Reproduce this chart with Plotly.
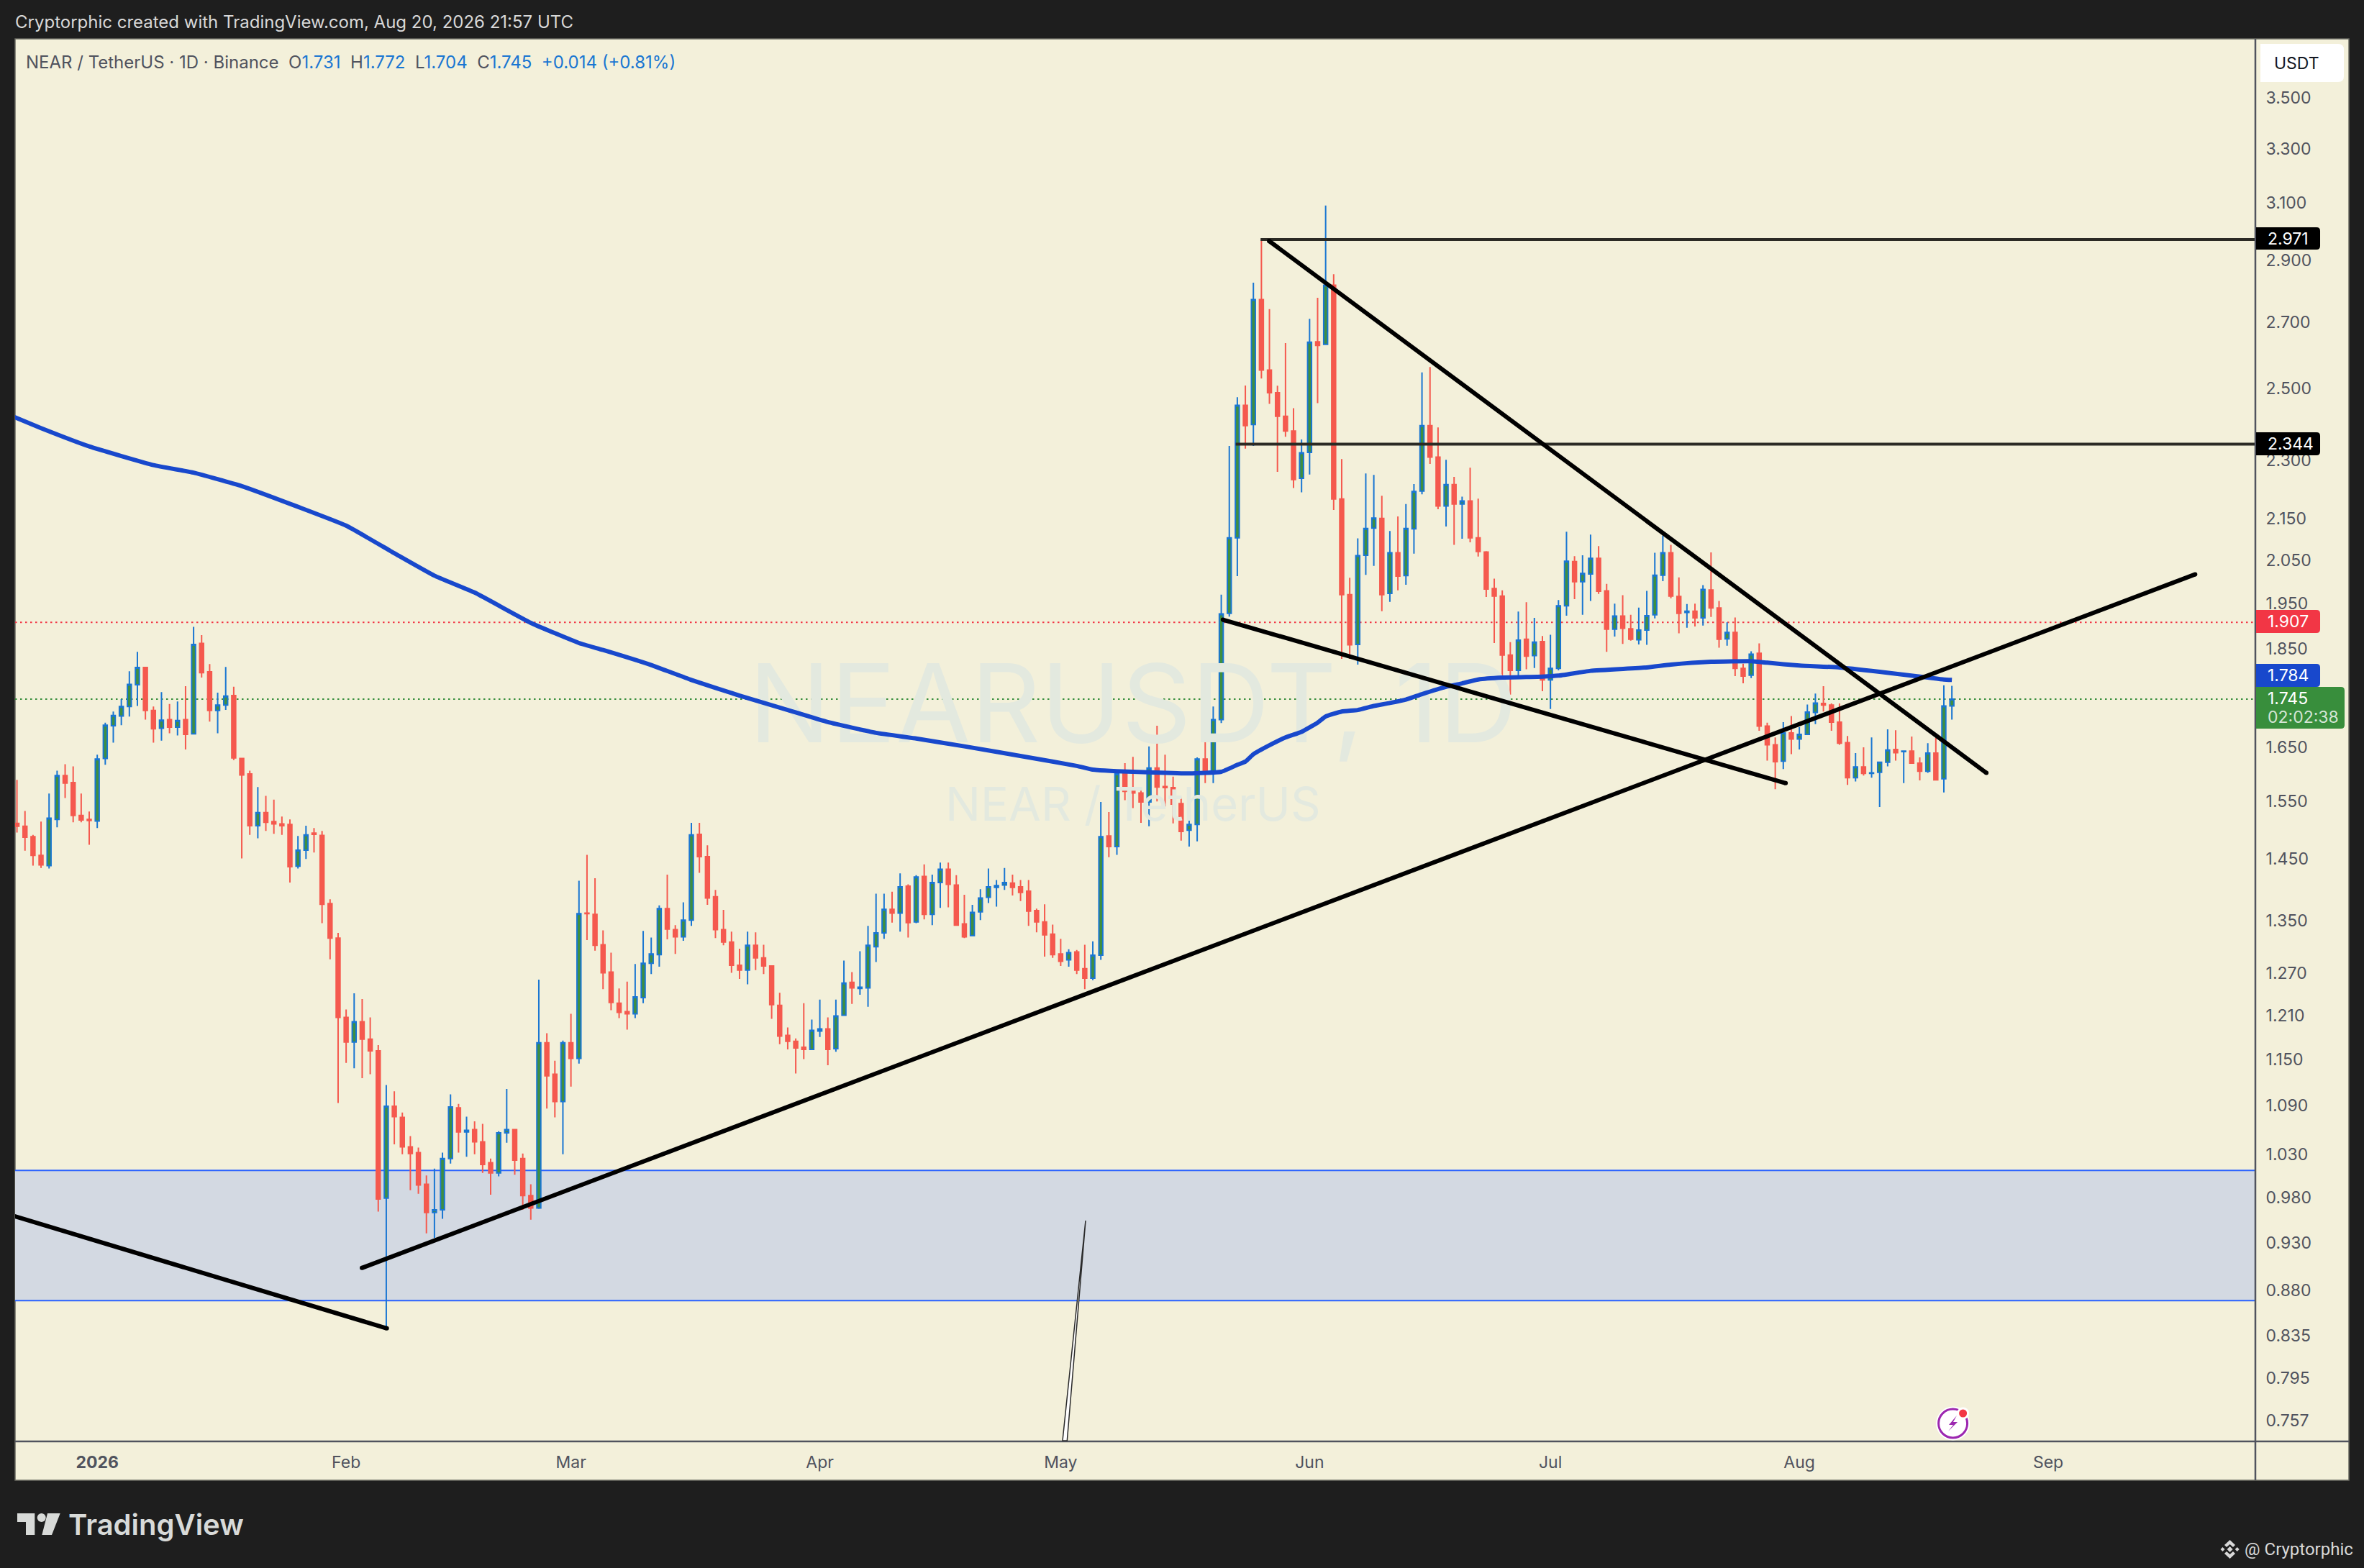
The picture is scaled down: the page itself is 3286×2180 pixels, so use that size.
import math

import pandas as pd
import plotly.graph_objects as go

W = 3286
H = 2180

# daily candles, first one is 22 Dec 2025
first_day = "2025-12-22"
opens = [
    1.511, 1.506, 1.488, 1.456, 1.439, 1.518, 1.597, 1.584, 1.525, 1.518,
    1.515, 1.629, 1.692, 1.711, 1.730, 1.774, 1.810, 1.722, 1.687, 1.704,
    1.689, 1.704, 1.676, 1.861, 1.801, 1.722, 1.733, 1.752, 1.629, 1.600,
    1.507, 1.530, 1.514, 1.510, 1.509, 1.438, 1.465, 1.494, 1.490, 1.377,
    1.323, 1.207, 1.173, 1.201, 1.177, 1.161, 0.979, 1.089, 1.075, 1.039,
    1.032, 0.995, 0.963, 0.966, 1.025, 1.087, 1.057, 1.060, 1.045, 1.020,
    1.008, 1.056, 1.060, 1.025, 0.982, 0.968, 1.172, 1.130, 1.095, 1.172,
    1.151, 1.362, 1.360, 1.313, 1.272, 1.227, 1.215, 1.212, 1.235, 1.285,
    1.298, 1.369, 1.336, 1.325, 1.351, 1.492, 1.454, 1.388, 1.336, 1.317,
    1.282, 1.275, 1.312, 1.293, 1.281, 1.224, 1.182, 1.174, 1.166, 1.163,
    1.188, 1.191, 1.164, 1.210, 1.257, 1.248, 1.249, 1.310, 1.331, 1.368,
    1.362, 1.405, 1.348, 1.421, 1.360, 1.411, 1.433, 1.407, 1.345, 1.327,
    1.364, 1.387, 1.403, 1.407, 1.410, 1.404, 1.397, 1.366, 1.348, 1.329,
    1.299, 1.290, 1.302, 1.277, 1.263, 1.297, 1.489, 1.471, 1.600, 1.569,
    1.565, 1.549, 1.611, 1.577, 1.575, 1.546, 1.499, 1.509, 1.628, 1.605,
    1.704, 1.927, 2.103, 2.452, 2.398, 2.771, 2.554, 2.488, 2.421, 2.380,
    2.253, 2.322, 2.639, 2.631, 2.818, 2.200, 1.969, 1.859, 2.061, 2.127,
    2.151, 1.972, 2.067, 2.013, 2.125, 2.220, 2.395, 2.309, 2.182, 2.237,
    2.187, 2.195, 2.103, 2.069, 1.983, 1.966, 1.836, 1.804, 1.870, 1.835,
    1.865, 1.784, 1.808, 1.944, 2.046, 1.999, 2.017, 2.054, 1.978, 1.892,
    1.921, 1.893, 1.869, 1.890, 1.924, 2.014, 2.067, 1.965, 1.929, 1.932,
    1.917, 1.980, 1.939, 1.871, 1.885, 1.808, 1.794, 1.840, 1.691, 1.655,
    1.624, 1.678, 1.666, 1.675, 1.718, 1.736, 1.733, 1.699, 1.659, 1.593,
    1.613, 1.601, 1.603, 1.622, 1.646, 1.642, 1.643, 1.620, 1.605, 1.639,
    1.591, 1.731,
]
closes = [
    1.506, 1.487, 1.456, 1.440, 1.520, 1.597, 1.583, 1.525, 1.517, 1.516,
    1.628, 1.693, 1.712, 1.730, 1.775, 1.810, 1.722, 1.686, 1.703, 1.689,
    1.702, 1.675, 1.859, 1.799, 1.722, 1.733, 1.751, 1.630, 1.598, 1.507,
    1.530, 1.513, 1.510, 1.507, 1.437, 1.465, 1.491, 1.492, 1.376, 1.323,
    1.207, 1.173, 1.201, 1.177, 1.161, 0.978, 1.089, 1.076, 1.039, 1.031,
    0.994, 0.963, 0.966, 1.025, 1.088, 1.057, 1.059, 1.045, 1.018, 1.008,
    1.056, 1.060, 1.023, 0.982, 0.968, 1.172, 1.128, 1.095, 1.172, 1.151,
    1.361, 1.361, 1.312, 1.271, 1.228, 1.214, 1.212, 1.236, 1.285, 1.299,
    1.369, 1.337, 1.325, 1.351, 1.491, 1.454, 1.386, 1.336, 1.317, 1.282,
    1.275, 1.312, 1.293, 1.281, 1.225, 1.181, 1.174, 1.165, 1.163, 1.189,
    1.191, 1.163, 1.209, 1.256, 1.249, 1.250, 1.312, 1.331, 1.368, 1.362,
    1.404, 1.347, 1.420, 1.360, 1.411, 1.433, 1.408, 1.343, 1.325, 1.363,
    1.386, 1.404, 1.406, 1.411, 1.403, 1.395, 1.365, 1.348, 1.328, 1.298,
    1.288, 1.301, 1.275, 1.263, 1.297, 1.488, 1.471, 1.600, 1.568, 1.565,
    1.549, 1.611, 1.576, 1.575, 1.545, 1.497, 1.509, 1.628, 1.604, 1.704,
    1.926, 2.103, 2.452, 2.395, 2.771, 2.554, 2.488, 2.421, 2.380, 2.250,
    2.321, 2.638, 2.628, 2.818, 2.200, 1.969, 1.858, 2.060, 2.126, 2.152,
    1.969, 2.067, 2.012, 2.126, 2.219, 2.395, 2.309, 2.182, 2.237, 2.187,
    2.195, 2.103, 2.070, 1.982, 1.966, 1.836, 1.804, 1.868, 1.834, 1.864,
    1.784, 1.808, 1.944, 2.047, 1.999, 2.018, 2.054, 1.977, 1.892, 1.921,
    1.894, 1.870, 1.890, 1.922, 2.014, 2.067, 1.966, 1.927, 1.932, 1.917,
    1.981, 1.939, 1.870, 1.885, 1.808, 1.792, 1.838, 1.691, 1.655, 1.623,
    1.678, 1.666, 1.675, 1.719, 1.737, 1.733, 1.699, 1.658, 1.593, 1.613,
    1.601, 1.602, 1.622, 1.645, 1.640, 1.643, 1.620, 1.605, 1.639, 1.589,
    1.731, 1.745,
]
highs = [
    1.589, 1.533, 1.491, 1.514, 1.564, 1.606, 1.618, 1.614, 1.564, 1.532,
    1.636, 1.698, 1.720, 1.745, 1.802, 1.843, 1.811, 1.730, 1.759, 1.735,
    1.740, 1.771, 1.897, 1.879, 1.817, 1.758, 1.811, 1.770, 1.630, 1.606,
    1.576, 1.560, 1.553, 1.523, 1.518, 1.489, 1.507, 1.503, 1.498, 1.384,
    1.331, 1.218, 1.241, 1.233, 1.207, 1.169, 1.116, 1.108, 1.081, 1.052,
    1.038, 1.005, 1.013, 1.032, 1.104, 1.092, 1.076, 1.070, 1.067, 1.025,
    1.058, 1.111, 1.060, 1.031, 0.995, 1.261, 1.185, 1.148, 1.175, 1.212,
    1.414, 1.457, 1.418, 1.335, 1.301, 1.248, 1.258, 1.284, 1.334, 1.324,
    1.374, 1.424, 1.343, 1.379, 1.512, 1.512, 1.473, 1.399, 1.367, 1.333,
    1.307, 1.333, 1.332, 1.313, 1.281, 1.242, 1.193, 1.178, 1.227, 1.204,
    1.232, 1.207, 1.232, 1.289, 1.272, 1.303, 1.342, 1.393, 1.393, 1.396,
    1.426, 1.408, 1.423, 1.441, 1.424, 1.444, 1.444, 1.423, 1.391, 1.375,
    1.400, 1.434, 1.415, 1.435, 1.424, 1.415, 1.415, 1.369, 1.376, 1.344,
    1.322, 1.306, 1.305, 1.313, 1.318, 1.549, 1.531, 1.606, 1.620, 1.632,
    1.576, 1.652, 1.692, 1.636, 1.595, 1.556, 1.562, 1.631, 1.689, 1.730,
    1.969, 2.339, 2.475, 2.509, 2.826, 2.971, 2.741, 2.508, 2.635, 2.444,
    2.357, 2.710, 2.777, 3.090, 2.854, 2.304, 2.008, 2.102, 2.266, 2.262,
    2.208, 2.120, 2.156, 2.187, 2.238, 2.547, 2.563, 2.390, 2.302, 2.257,
    2.206, 2.281, 2.201, 2.071, 2.006, 1.979, 1.864, 1.931, 1.952, 1.917,
    1.877, 1.880, 1.957, 2.118, 2.059, 2.061, 2.111, 2.083, 1.994, 1.949,
    1.968, 1.924, 1.940, 1.978, 2.067, 2.109, 2.086, 2.009, 1.948, 1.949,
    1.991, 2.068, 1.955, 1.907, 1.918, 1.818, 1.844, 1.861, 1.698, 1.669,
    1.699, 1.711, 1.689, 1.734, 1.756, 1.771, 1.736, 1.736, 1.672, 1.639,
    1.650, 1.669, 1.623, 1.685, 1.683, 1.644, 1.671, 1.631, 1.658, 1.668,
    1.773, 1.772,
]
lows = [
    1.495, 1.464, 1.439, 1.435, 1.434, 1.504, 1.556, 1.513, 1.513, 1.474,
    1.503, 1.617, 1.659, 1.693, 1.710, 1.731, 1.704, 1.659, 1.663, 1.677,
    1.673, 1.646, 1.675, 1.789, 1.700, 1.677, 1.723, 1.626, 1.451, 1.491,
    1.485, 1.498, 1.493, 1.491, 1.411, 1.434, 1.450, 1.461, 1.346, 1.291,
    1.093, 1.145, 1.138, 1.125, 1.130, 0.964, 0.842, 1.042, 1.030, 0.988,
    0.984, 0.940, 0.935, 0.956, 1.019, 1.032, 1.027, 1.030, 1.008, 0.983,
    1.004, 1.044, 1.006, 0.966, 0.955, 0.967, 1.086, 1.075, 1.030, 1.114,
    1.144, 1.320, 1.304, 1.247, 1.217, 1.206, 1.190, 1.206, 1.227, 1.269,
    1.280, 1.321, 1.299, 1.319, 1.342, 1.427, 1.375, 1.323, 1.312, 1.271,
    1.262, 1.254, 1.275, 1.269, 1.205, 1.170, 1.163, 1.131, 1.150, 1.163,
    1.180, 1.142, 1.160, 1.209, 1.226, 1.239, 1.222, 1.287, 1.322, 1.347,
    1.333, 1.324, 1.346, 1.352, 1.343, 1.370, 1.371, 1.343, 1.323, 1.326,
    1.351, 1.378, 1.372, 1.399, 1.390, 1.381, 1.342, 1.332, 1.295, 1.293,
    1.281, 1.280, 1.269, 1.247, 1.260, 1.290, 1.453, 1.457, 1.552, 1.538,
    1.512, 1.506, 1.550, 1.541, 1.511, 1.481, 1.471, 1.480, 1.583, 1.583,
    1.697, 1.920, 2.012, 2.332, 2.339, 2.529, 2.456, 2.270, 2.364, 2.228,
    2.217, 2.263, 2.458, 2.631, 2.172, 1.828, 1.828, 1.816, 2.015, 2.036,
    1.932, 1.953, 1.979, 1.992, 2.065, 2.212, 2.291, 2.174, 2.131, 2.086,
    2.101, 2.092, 2.058, 1.964, 1.862, 1.779, 1.754, 1.793, 1.806, 1.809,
    1.761, 1.725, 1.804, 1.922, 1.959, 1.924, 1.955, 1.971, 1.843, 1.876,
    1.860, 1.867, 1.859, 1.858, 1.916, 2.000, 1.961, 1.883, 1.895, 1.898,
    1.900, 1.919, 1.852, 1.856, 1.792, 1.777, 1.788, 1.682, 1.625, 1.572,
    1.609, 1.637, 1.646, 1.674, 1.695, 1.720, 1.682, 1.655, 1.580, 1.586,
    1.597, 1.593, 1.540, 1.614, 1.625, 1.583, 1.619, 1.588, 1.602, 1.589,
    1.566, 1.704,
]

ma_days = [-11, -7, -1, 7, 12, 18, 25, 31, 37, 42, 47, 54, 60, 63, 69, 74, 80, 86, 91, 97,
           102, 108, 116, 122, 124, 127, 131, 136, 140, 142, 143, 144, 146, 148, 150, 152,
           153, 155, 157, 159, 161, 163, 165, 168, 170, 172, 175, 180, 182, 186, 193, 196,
           201, 206, 208, 212, 217, 222, 228, 230, 231]
ma_values = [2.425, 2.388, 2.338, 2.288, 2.268, 2.233, 2.180, 2.133, 2.066, 2.013, 1.974,
             1.906, 1.862, 1.847, 1.815, 1.784, 1.752, 1.723, 1.699, 1.678, 1.667, 1.652,
             1.631, 1.615, 1.608, 1.605, 1.603, 1.601, 1.604, 1.617, 1.623, 1.637, 1.654,
             1.669, 1.680, 1.698, 1.710, 1.720, 1.723, 1.731, 1.737, 1.744, 1.755, 1.770,
             1.777, 1.785, 1.789, 1.791, 1.793, 1.803, 1.810, 1.816, 1.822, 1.823, 1.820,
             1.814, 1.810, 1.801, 1.789, 1.785, 1.784]

# hand drawn trend lines: start day, start price, end day, end price
trend_up = [32.96, 0.903, 261.3, 2.016]
trend_left = [-11, 0.9606, 36.07, 0.842]
trend_down = [145.95, 2.966, 235.3, 1.602]
trend_wedge = [140.2, 1.913, 210.3, 1.583]
level_high = [144.9, 2.971]
level_mid = [141.8, 2.344]
zone_low = 0.8695
zone_high = 1.011
last_close = 1.745
alert_price = 1.907

price_ticks = [3.5, 3.3, 3.1, 2.9, 2.7, 2.5, 2.3, 2.15, 2.05, 1.95, 1.85, 1.65, 1.55, 1.45,
               1.35, 1.27, 1.21, 1.15, 1.09, 1.03, 0.98, 0.93, 0.88, 0.835, 0.795, 0.757]
price_labels = ["3.500", "3.300", "3.100", "2.900", "2.700", "2.500", "2.300", "2.150",
                "2.050", "1.950", "1.850", "1.650", "1.550", "1.450", "1.350", "1.270",
                "1.210", "1.150", "1.090", "1.030", "0.980", "0.930", "0.880", "0.835",
                "0.795", "0.757"]
time_ticks = ["2026-01-01", "2026-02-01", "2026-03-01", "2026-04-01", "2026-05-01",
              "2026-06-01", "2026-07-01", "2026-08-01", "2026-09-01"]
time_labels = ["<b>2026</b>", "Feb", "Mar", "Apr", "May", "Jun", "Jul", "Aug", "Sep"]

BG = "#f3f0da"
DARK = "#1e1e1e"
GRAY = "#50535e"
BLUE = "#1976d2"
GREEN_BODY = "#3f8f3f"
RED = "#f5594e"
LINE_BLUE = "#2962ff"
MA_BLUE = "#1848cc"
WATERMARK = "#e3e9df"
SANS = "Inter"

# plot box in page pixels
LEFT, RIGHT, TOP, BOTTOM = 21, 3135, 54, 2004
PANEL_RIGHT, PANEL_BOTTOM = 3265, 2058


def day(d):
    return pd.Timestamp("2026-01-01") + pd.Timedelta(days=d)


def fx(x):
    return x / W


def fy(y):
    return 1 - y / H


def poly(points):
    return "M " + " L ".join(f"{fx(x):.5f},{fy(y):.5f}" for x, y in points) + " Z"


def rounded_tag(x0, x1, y0, y1, r=5):
    # square on the left, round corners on the right
    return (f"M {fx(x0):.5f},{fy(y0):.5f} L {fx(x1 - r):.5f},{fy(y0):.5f} "
            f"Q {fx(x1):.5f},{fy(y0):.5f} {fx(x1):.5f},{fy(y0 + r):.5f} "
            f"L {fx(x1):.5f},{fy(y1 - r):.5f} "
            f"Q {fx(x1):.5f},{fy(y1):.5f} {fx(x1 - r):.5f},{fy(y1):.5f} "
            f"L {fx(x0):.5f},{fy(y1):.5f} Z")


def paper_shape(path, fill, layer="above", line=None, width=0):
    return dict(type="path", xref="paper", yref="paper", path=path, fillcolor=fill,
                line=dict(color=line or fill, width=width), layer=layer)


def circle(cx, cy, r, fill, line=None, width=0):
    return dict(type="circle", xref="paper", yref="paper", x0=fx(cx - r), x1=fx(cx + r),
                y0=fy(cy + r), y1=fy(cy - r), fillcolor=fill,
                line=dict(color=line or fill, width=width), layer="above")


def text_at(x, y, text, size, color, xanchor="left", family=SANS, weight=None):
    return dict(xref="paper", yref="paper", x=fx(x), y=fy(y), text=text, showarrow=False,
                xanchor=xanchor, yanchor="middle", align="left",
                font=dict(size=size, color=color, family=family, weight=weight))


dates = pd.date_range(first_day, periods=len(closes), freq="D")
assert len(opens) == len(highs) == len(lows) == len(closes) == 242

fig = go.Figure()

# watermark goes under everything
fig.add_trace(go.Scatter(x=[day(129)], y=[1.713], mode="text", text=["NEARUSDT, 1D"],
                         textposition="middle center", cliponaxis=False, hoverinfo="skip",
                         textfont=dict(size=151, color=WATERMARK, family=SANS)))
fig.add_trace(go.Scatter(x=[day(129)], y=[1.537], mode="text", text=["NEAR / TetherUS"],
                         textposition="middle center", cliponaxis=False, hoverinfo="skip",
                         textfont=dict(size=65, color=WATERMARK, family=SANS)))

fig.add_trace(go.Scatter(x=[day(d) for d in ma_days], y=ma_values, mode="lines",
                         line=dict(color=MA_BLUE, width=6, shape="spline", smoothing=0.4),
                         hoverinfo="skip"))

for lev in [level_high, level_mid]:
    fig.add_trace(go.Scatter(x=[day(lev[0]), day(300)], y=[lev[1], lev[1]], mode="lines",
                             line=dict(color="#2b2a24", width=4), hoverinfo="skip"))

for t in [trend_up, trend_left, trend_down, trend_wedge]:
    fig.add_trace(go.Scatter(x=[day(t[0]), day(t[2])], y=[t[1], t[3]], mode="lines+markers",
                             line=dict(color="#000000", width=6),
                             marker=dict(color="#000000", size=6), hoverinfo="skip"))

fig.add_trace(go.Candlestick(
    x=dates, open=opens, high=highs, low=lows, close=closes,
    whiskerwidth=0, hoverinfo="skip",
    increasing=dict(fillcolor=GREEN_BODY, line=dict(color=BLUE, width=2)),
    decreasing=dict(fillcolor=RED, line=dict(color=RED, width=2)),
))

shapes = [
    # cream panels behind the plot and the axes
    paper_shape(poly([(LEFT, TOP), (PANEL_RIGHT, TOP), (PANEL_RIGHT, PANEL_BOTTOM), (LEFT, PANEL_BOTTOM)]),
                BG, layer="below", line="#6a6a62", width=1.5),
    dict(type="rect", xref="x domain", yref="y", x0=0, x1=1, y0=zone_low, y1=zone_high,
         fillcolor="#d3d9e2", line=dict(width=0), layer="below"),
    dict(type="line", xref="x domain", yref="y", x0=0, x1=1, y0=zone_high, y1=zone_high,
         line=dict(color=LINE_BLUE, width=2), layer="below"),
    dict(type="line", xref="x domain", yref="y", x0=0, x1=1, y0=zone_low, y1=zone_low,
         line=dict(color=LINE_BLUE, width=2), layer="below"),
    dict(type="line", xref="x domain", yref="y", x0=0, x1=1, y0=alert_price, y1=alert_price,
         line=dict(color="#f23645", width=2, dash="2.5px,4.5px"), layer="below"),
    dict(type="line", xref="x domain", yref="y", x0=0, x1=1, y0=last_close, y1=last_close,
         line=dict(color="#388e3c", width=2, dash="2.5px,4.5px"), layer="below"),
    # axis lines
    dict(type="line", xref="paper", yref="paper", x0=fx(RIGHT), x1=fx(RIGHT), y0=fy(TOP), y1=fy(PANEL_BOTTOM),
         line=dict(color=GRAY, width=2.5), layer="above"),
    dict(type="line", xref="paper", yref="paper", x0=fx(LEFT), x1=fx(PANEL_RIGHT), y0=fy(BOTTOM), y1=fy(BOTTOM),
         line=dict(color=GRAY, width=2.5), layer="above"),
    # narrow wedge drawing that runs into the time axis
    paper_shape(poly([(1509, 1697), (1483.3, BOTTOM - 1), (1477, BOTTOM - 1)]), "#ffffff",
                line="#2a2a2a", width=1.5),
    # price tags
    paper_shape(rounded_tag(RIGHT + 1, 3225, 316, 347), "#000000"),
    paper_shape(rounded_tag(RIGHT + 1, 3225, 601, 633), "#000000"),
    paper_shape(rounded_tag(RIGHT + 1, 3225, 848, 880), "#f23645"),
    paper_shape(rounded_tag(RIGHT + 1, 3225, 923, 955), MA_BLUE),
    paper_shape(rounded_tag(RIGHT + 1, 3259, 955, 1013), "#388e3c"),
    # USDT button
    paper_shape(rounded_tag(3142, 3258, 61, 114, r=8), "#ffffff"),
    paper_shape(poly([(3142, 69), (3150, 61), (3150, 114), (3142, 106)]), "#ffffff"),
    # TradingView logo
    paper_shape(poly([(24, 2104), (48.3, 2104), (48.3, 2134), (36, 2134), (36, 2116), (24, 2116)]), "#d8dad8"),
    paper_shape(poly([(66, 2104), (83.7, 2104), (72, 2134), (58.3, 2134)]), "#d8dad8"),
    circle(57.7, 2110, 6, "#d8dad8"),
    # lightning badge at the last bar
    circle(2714.6, 1979, 23.5, "#ffffff"),
    circle(2714.6, 1979, 20, "#ffffff", line="#9c27b0", width=3),
    paper_shape(poly([(2720, 1968), (2709, 1981), (2715, 1981), (2708, 1990),
                      (2721, 1977), (2715, 1977)]), "#9c27b0"),
    circle(2728.6, 1965, 8.5, "#ffffff"),
    circle(2728.6, 1965, 5.5, "#f23645"),
    # binance mark next to the author name
    paper_shape(poly([(3099.6, 2141), (3107, 2148), (3104, 2151), (3099.6, 2147), (3095, 2151), (3092, 2148)]), "#d8d8d8"),
    paper_shape(poly([(3099.6, 2167), (3107, 2160), (3104, 2157), (3099.6, 2161), (3095, 2157), (3092, 2160)]), "#d8d8d8"),
    paper_shape(poly([(3099.6, 2150), (3103.6, 2154), (3099.6, 2158), (3095.6, 2154)]), "#d8d8d8"),
    paper_shape(poly([(3089.5, 2151), (3092.5, 2154), (3089.5, 2157), (3086.5, 2154)]), "#d8d8d8"),
    paper_shape(poly([(3109.7, 2151), (3112.7, 2154), (3109.7, 2157), (3106.7, 2154)]), "#d8d8d8"),
]

legend_line = (
    f"<span style='color:{GRAY}'>NEAR / TetherUS · 1D · Binance  O</span>"
    f"<span style='color:{BLUE}'>1.731</span><span style='color:{GRAY}'>  H</span>"
    f"<span style='color:{BLUE}'>1.772</span><span style='color:{GRAY}'>  L</span>"
    f"<span style='color:{BLUE}'>1.704</span><span style='color:{GRAY}'>  C</span>"
    f"<span style='color:{BLUE}'>1.745  +0.014 (+0.81%)</span>"
)

annotations = [
    text_at(19, 30, "Cryptorphic created with TradingView.com, Aug 20, 2026 21:57 UTC", 24, "#d8d8d8"),
    text_at(34, 86, legend_line, 24, GRAY),
    text_at(3192, 88, "USDT", 23, "#131722", xanchor="center"),
    text_at(3150, 332, "2.971", 23, "#ffffff"),
    text_at(3150, 617, "2.344", 23, "#ffffff"),
    text_at(3150, 864, "1.907", 23, "#ffffff"),
    text_at(3150, 939, "1.784", 23, "#ffffff"),
    text_at(3150, 971, "1.745", 23, "#ffffff"),
    text_at(3150, 997, "02:02:38", 23, "#d5e5d5"),
    text_at(93, 2119, "TradingView", 40, "#d8dad8", weight=600),
    text_at(3118, 2154, "@ Cryptorphic", 24, "#d8d8d8", family="Roboto"),
]

fig.update_layout(
    width=W,
    height=H,
    autosize=False,
    margin=dict(l=0, r=0, t=0, b=0),
    paper_bgcolor=DARK,
    plot_bgcolor="rgba(0,0,0,0)",
    showlegend=False,
    hovermode=False,
    shapes=shapes,
    annotations=annotations,
    xaxis=dict(
        domain=[fx(LEFT), fx(RIGHT)],
        type="date",
        range=[day(-10.23), day(268.8)],
        rangeslider=dict(visible=False),
        showgrid=False,
        zeroline=False,
        tickmode="array",
        tickvals=time_ticks,
        ticktext=time_labels,
        ticks="outside",
        ticklen=8,
        tickcolor=BG,
        tickfont=dict(size=23, color=GRAY, family=SANS),
    ),
    yaxis=dict(
        domain=[fy(BOTTOM), fy(TOP)],
        type="log",
        side="right",
        range=[math.log10(0.7387), math.log10(3.748)],
        showgrid=False,
        zeroline=False,
        tickmode="array",
        tickvals=price_ticks,
        ticktext=price_labels,
        ticks="outside",
        ticklen=9,
        tickcolor=BG,
        tickfont=dict(size=23, color=GRAY, family=SANS),
    ),
)

fig.write_html("out.html", config={"displayModeBar": False},
               post_script="document.body.style.margin='0';")
